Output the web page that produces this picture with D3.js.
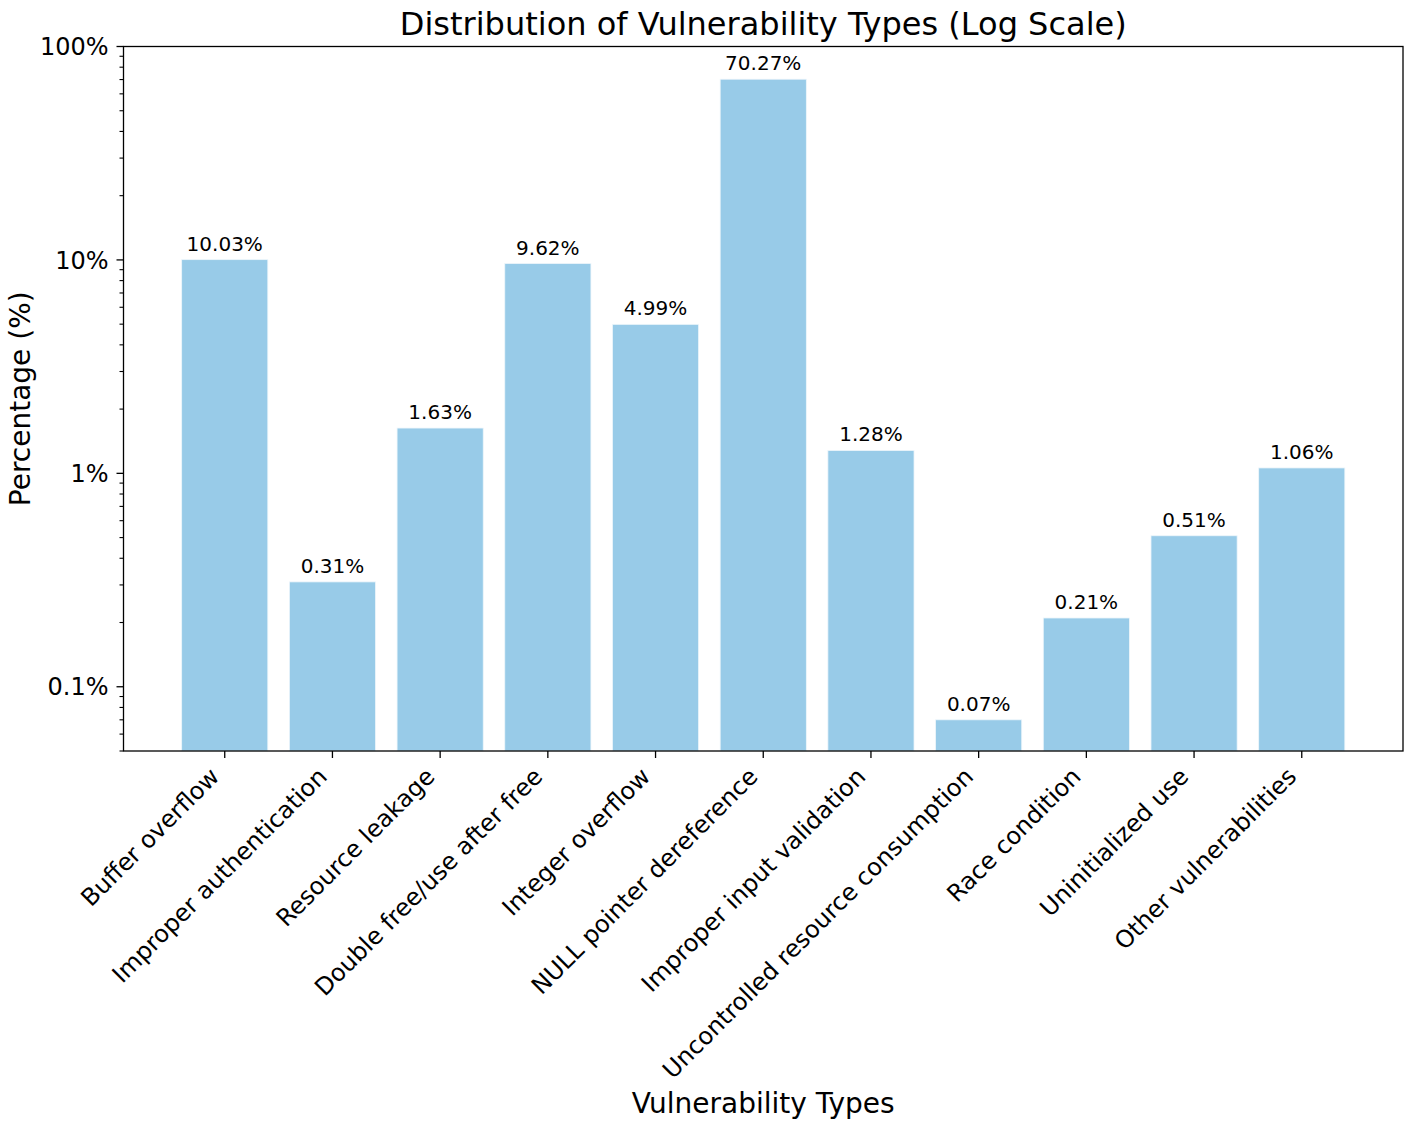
<!DOCTYPE html>
<html>
<head>
<meta charset="utf-8">
<script src="https://cdn.jsdelivr.net/npm/d3@7"></script>
<style>
  body { margin: 0; background: #fff; }
  svg text { font-family: "DejaVu Sans", sans-serif; fill: #000; }
</style>
</head>
<body>
<div id="container"></div>
<script>
let categories = [
  "Buffer overflow", "Improper authentication", "Resource leakage",
  "Double free/use after free", "Integer overflow", "NULL pointer dereference",
  "Improper input validation", "Uncontrolled resource consumption",
  "Race condition", "Uninitialized use", "Other vulnerabilities"
];
let percentages = [10.03, 0.31, 1.63, 9.62, 4.99, 70.27, 1.28, 0.07, 0.21, 0.51, 1.06];
let majorTicks = [0.1, 1, 10, 100];
let majorLabels = ["0.1%", "1%", "10%", "100%"];

let width = 1410, height = 1136;
let margin = { top: 46.5, right: 7, bottom: 385, left: 123.5 };
let plotW = width - margin.left - margin.right;
let plotH = height - margin.top - margin.bottom;

let svg = d3.select("#container").append("svg")
  .attr("width", width)
  .attr("height", height);

let g = svg.append("g").attr("transform", `translate(${margin.left},${margin.top})`);

// matplotlib-like x limits: bars of width 0.8 plus 5% margin
let n = categories.length;
let x = d3.scaleLinear().domain([-0.94, n - 1 + 0.94]).range([0, plotW]);
let y = d3.scaleLog().domain([0.05, 100]).range([plotH, 0]);

// bars
g.selectAll(".bar")
  .data(percentages)
  .enter()
  .append("rect")
  .attr("class", "bar")
  .attr("x", (d, i) => x(i - 0.4))
  .attr("width", x(0.4) - x(-0.4))
  .attr("y", d => y(d))
  .attr("height", d => plotH - y(d))
  .attr("fill", "#98cbe8")
  .attr("stroke", "#eef6fb")
  .attr("stroke-width", 0.8);

// value labels
g.selectAll(".val")
  .data(percentages)
  .enter()
  .append("text")
  .attr("class", "val")
  .attr("x", (d, i) => x(i))
  .attr("y", d => y(d) - 9)
  .attr("text-anchor", "middle")
  .style("font-size", "20px")
  .text(d => d.toFixed(2) + "%");

// y axis: major + minor log ticks
let minorTicks = y.ticks().filter(t => majorTicks.indexOf(t) < 0);
let yAxis = g.append("g");
yAxis.selectAll(".minor")
  .data(minorTicks)
  .enter()
  .append("line")
  .attr("x1", -4).attr("x2", 0)
  .attr("y1", d => y(d)).attr("y2", d => y(d))
  .attr("stroke", "#000").attr("stroke-width", 1.1);
yAxis.selectAll(".major")
  .data(majorTicks)
  .enter()
  .append("line")
  .attr("x1", -7).attr("x2", 0)
  .attr("y1", d => y(d)).attr("y2", d => y(d))
  .attr("stroke", "#000").attr("stroke-width", 1.3);
yAxis.selectAll(".ylab")
  .data(majorTicks)
  .enter()
  .append("text")
  .attr("x", -15)
  .attr("y", d => y(d))
  .attr("dy", "0.36em")
  .attr("text-anchor", "end")
  .style("font-size", "24px")
  .text((d, i) => majorLabels[i]);

// x ticks
let xAxis = g.append("g").attr("transform", `translate(0,${plotH})`);
xAxis.selectAll(".xt")
  .data(categories)
  .enter()
  .append("line")
  .attr("x1", (d, i) => x(i)).attr("x2", (d, i) => x(i))
  .attr("y1", 0).attr("y2", 7)
  .attr("stroke", "#000").attr("stroke-width", 1.3);
xAxis.selectAll(".xlab")
  .data(categories)
  .enter()
  .append("text")
  .attr("text-anchor", "end")
  .attr("transform", (d, i) => `translate(${x(i) - 4},27) rotate(-45)`)
  .style("font-size", "24px")
  .text(d => d);

// frame
g.append("rect")
  .attr("width", plotW).attr("height", plotH)
  .attr("fill", "none")
  .attr("stroke", "#000")
  .attr("stroke-width", 1.3);

// titles
svg.append("text")
  .attr("x", margin.left + plotW / 2)
  .attr("y", 35)
  .attr("text-anchor", "middle")
  .style("font-size", "32px")
  .text("Distribution of Vulnerability Types (Log Scale)");

svg.append("text")
  .attr("x", margin.left + plotW / 2)
  .attr("y", 1113)
  .attr("text-anchor", "middle")
  .style("font-size", "28px")
  .text("Vulnerability Types");

svg.append("text")
  .attr("transform", `translate(30,${margin.top + plotH / 2}) rotate(-90)`)
  .attr("text-anchor", "middle")
  .style("font-size", "28px")
  .text("Percentage (%)");
</script>
</body>
</html>
